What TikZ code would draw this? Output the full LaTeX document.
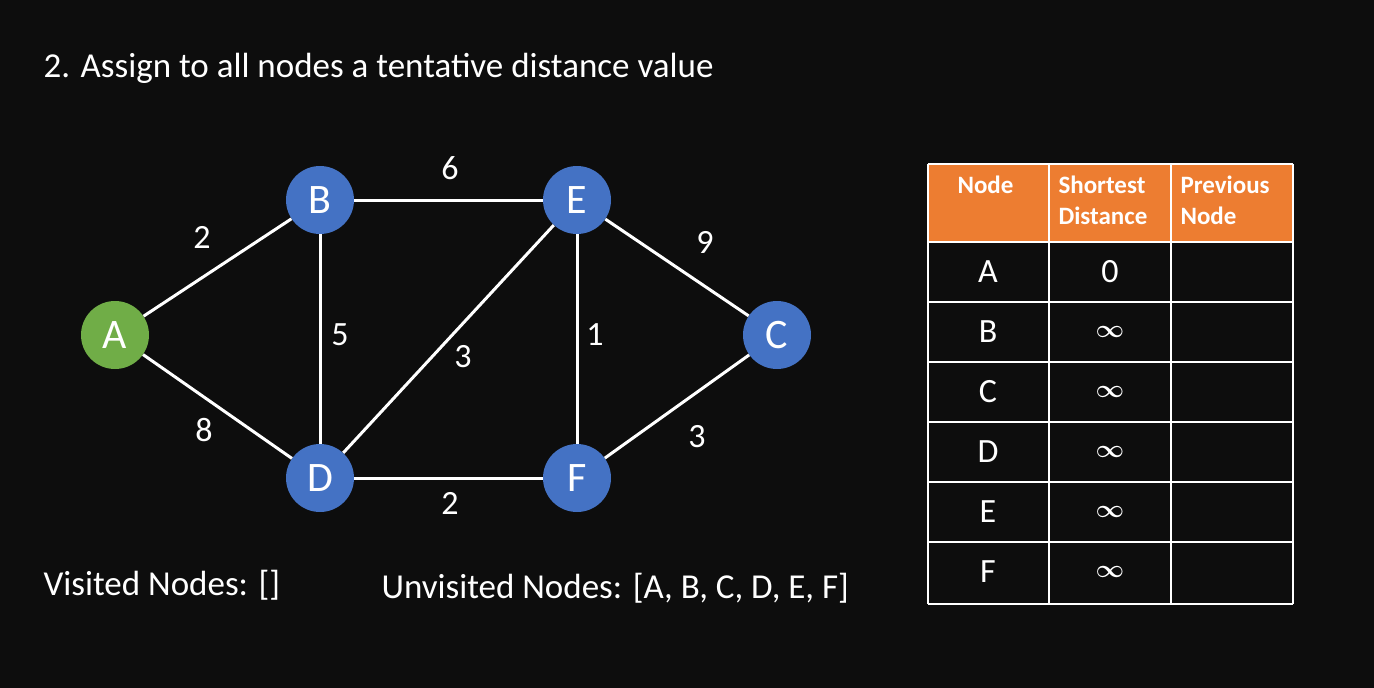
\documentclass[tikz,border=0pt]{standalone}
\usepackage{fontspec}
\setmainfont{Carlito}
\begin{document}
\begin{tikzpicture}[x=1pt,y=-1pt,
 v/.style={circle,draw=none,minimum size=68pt,inner sep=0,text=white,font=\fontsize{42}{42}\selectfont},
 e/.style={white,line width=3pt},
 w/.style={text=white,font=\fontsize{34}{34}\selectfont},
 t/.style={text=white,font=\fontsize{35}{35}\selectfont,anchor=west},
 h/.style={text=white,font=\fontsize{25}{31}\selectfont\bfseries,align=left,anchor=north west}]
\definecolor{nb}{HTML}{4472C4}\definecolor{ng}{HTML}{70AD47}\definecolor{og}{HTML}{ED7D31}
\fill[black!95!white] (0,0) rectangle (1374,688);
\useasboundingbox (0,0) rectangle (1374,688);
\node[t] (title) at (40,68) {2. Assign to all nodes a tentative distance value};
\node[v,fill=ng] (A) at (115,335) {A};
\node[v,fill=nb] (B) at (320,200) {B};
\node[v,fill=nb] (E) at (577,200) {E};
\node[v,fill=nb] (C) at (777,335) {C};
\node[v,fill=nb] (D) at (320,478) {D};
\node[v,fill=nb] (F) at (577,478) {F};
\draw[e] (A)--(B); \draw[e] (A)--(D); \draw[e] (B)--(E); \draw[e] (B)--(D);
\draw[e] (D)--(E); \draw[e] (E)--(F); \draw[e] (E)--(C); \draw[e] (D)--(F); \draw[e] (F)--(C);
\node[w] (l1) at (202,237) {2};
\node[w] (l2) at (204,430) {8};
\node[w] (l3) at (450,168) {6};
\node[w] (l4) at (340,335) {5};
\node[w] (l5) at (463,357) {3};
\node[w] (l6) at (595,335) {1};
\node[w] (l7) at (705,242) {9};
\node[w] (l8) at (697,437) {3};
\node[w] (l9) at (450,503) {2};
\node[t] (vis) at (40,585) {Visited Nodes: []};
\node[t] (unv) at (378,588) {Unvisited Nodes: [A, B, C, D, E, F]};
\fill[og] (928,164) rectangle (1293,242);
\foreach \xx in {928,1049,1171,1293} \draw[white,line width=1.5pt] (\xx,164)--(\xx,604);
\foreach \yy in {164,242,302,362,422,482,542,604} \draw[white,line width=1.5pt] (928,\yy)--(1293,\yy);
\node[h] (h1) at (954,172) {Node};
\node[h] (h2) at (1055,172) {Shortest\\Distance};
\node[h] (h3) at (1177,172) {Previous\\Node};
\foreach \n/\d [count=\i] in {A/0,B/$\infty$,C/$\infty$,D/$\infty$,E/$\infty$,F/$\infty$}{
 \node[text=white,font=\fontsize{34}{34}\selectfont] (r\i) at (988,{212+60*\i}) {\n};
 \node[text=white,font=\fontsize{34}{34}\selectfont\boldmath] (d\i) at (1110,{212+60*\i}) {\d};}
\end{tikzpicture}
\end{document}
